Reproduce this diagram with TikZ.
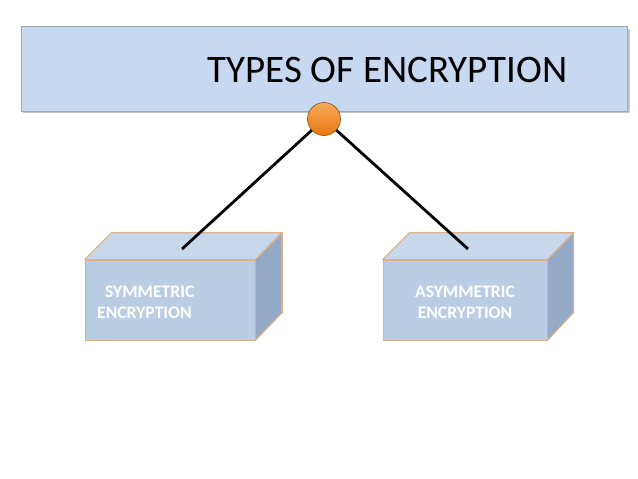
\documentclass[tikz,border=0pt]{standalone}
\usepackage{fontspec}
\setmainfont{Carlito}
\definecolor{bannerfill}{HTML}{C6D9F1}
\definecolor{bannerline}{HTML}{9FA9B4}
\definecolor{frontfill}{HTML}{B9CDE5}
\definecolor{topfill}{HTML}{C8D8EC}
\definecolor{sidefill}{HTML}{93A9C5}
\definecolor{boxedge}{HTML}{DDB088}
\definecolor{hubtop}{HTML}{F9A95C}
\definecolor{hubbot}{HTML}{E8780F}
\definecolor{hubline}{HTML}{8A4D17}
\tikzset{
  banner/.style={draw=bannerline, line width=0.8pt, fill=bannerfill, minimum width=606pt, minimum height=85pt, inner sep=0pt},
  front/.style={draw=boxedge, line width=0.8pt, fill=frontfill, inner sep=0pt},
  face/.style={draw=boxedge, line width=0.8pt, line join=round},
  boxtext/.style={text=white, font=\bfseries\fontsize{17.6}{21}\selectfont, inner sep=0pt},
  link/.style={line width=2.8pt, black},
  hubstyle/.style={circle, draw=hubline, line width=0.6pt, top color=hubtop, bottom color=hubbot, minimum size=33pt, inner sep=0pt}
}
\begin{document}
\begin{tikzpicture}[x=1pt, y=-1pt]
\useasboundingbox (0,0) rectangle (638,479);
% banner with shadow
\fill[black!22] (23,28.5) rectangle (629.5,113);
\node[banner] (banner) at (324,68.5) {};
\node[anchor=base west, inner sep=0pt, font=\fontsize{39}{47}\selectfont] (title) at (207,82) {TYPES OF ENCRYPTION};
% left box
\node[front, minimum width=170pt, minimum height=80pt] (sym) at (170,300) {};
\fill[topfill, face] (sym.north west) -- ++(27,-27) -- ++(170,0) -- (sym.north east) -- cycle;
\fill[sidefill, face] (sym.north east) -- ++(27,-27) -- ++(0,80) -- (sym.south east) -- cycle;
\draw[face] (sym.north west) -- ++(27,-27) -- ++(170,0) -- ++(0,80) -- (sym.south east);
\draw[face] (sym.north east) -- ++(27,-27);
\node[boxtext, align=left, anchor=west] (symtext) at (97,302) {\hspace*{8pt}SYMMETRIC\\ENCRYPTION};
% right box
\node[front, minimum width=164pt, minimum height=80pt] (asym) at (465,300) {};
\fill[topfill, face] (asym.north west) -- ++(27,-27) -- ++(164,0) -- (asym.north east) -- cycle;
\fill[sidefill, face] (asym.north east) -- ++(26,-27) -- ++(0,80) -- (asym.south east) -- cycle;
\draw[face] (asym.north west) -- ++(27,-27) -- ++(164,0) -- ++(0,80) -- (asym.south east);
\draw[face] (asym.north east) -- ++(27,-27);
\node[boxtext, align=center] (asymtext) at (465,302) {ASYMMETRIC\\ENCRYPTION};
% connectors
\coordinate (symtop) at (182,249);
\coordinate (asymtop) at (468,249);
\coordinate (hubc) at (324,119);
\draw[link] (hubc) -- (symtop);
\draw[link] (hubc) -- (asymtop);
\node[hubstyle] (hub) at (hubc) {};
\end{tikzpicture}
\end{document}
